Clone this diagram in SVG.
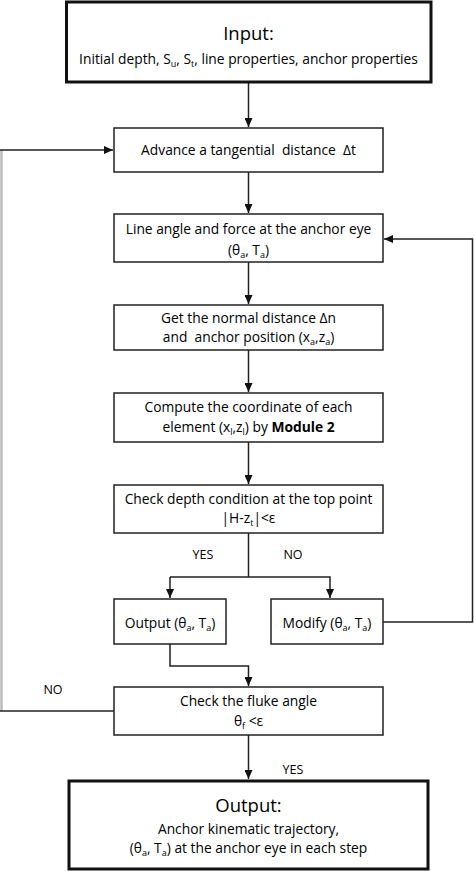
<svg xmlns="http://www.w3.org/2000/svg" width="474" height="871" viewBox="0 0 474 871">
<defs>
<marker id="ah" markerWidth="10" markerHeight="8" refX="9" refY="4" orient="auto" markerUnits="userSpaceOnUse">
<path d="M0,0 L9,4 L0,8 Z" fill="#111"/>
</marker>
</defs>
<style>
.box{fill:#fff;stroke:#222;stroke-width:1.5}
.tbox{fill:#fff;stroke:#111;stroke-width:3}
text{font-family:"Open Sans","Liberation Sans",sans-serif;fill:#000;text-anchor:middle;white-space:pre;font-weight:500}
.t{font-size:13.8px}
.big{font-size:18.5px}
.lab{font-size:12.5px}
.c{fill:none;stroke:#222;stroke-width:1.5}
.g{fill:none;stroke:#bbb;stroke-width:2.5}
.s{font-size:9px}
</style>
<rect width="474" height="871" fill="#fff"/>
<g id="connectors">
<line class="c" x1="248.5" y1="82" x2="248.5" y2="127" marker-end="url(#ah)"/>
<line class="c" x1="248.5" y1="172" x2="248.5" y2="213" marker-end="url(#ah)"/>
<line class="c" x1="248.5" y1="262" x2="248.5" y2="304" marker-end="url(#ah)"/>
<line class="c" x1="248.5" y1="350" x2="248.5" y2="392" marker-end="url(#ah)"/>
<line class="c" x1="248.5" y1="442" x2="248.5" y2="484" marker-end="url(#ah)"/>
<polyline class="c" points="248.5,533 248.5,577"/>
<polyline class="c" points="170,577 330,577 330,598" marker-end="url(#ah)"/>
<line class="c" x1="170" y1="577" x2="170" y2="598" marker-end="url(#ah)"/>
<polyline class="c" points="170,644 170,666 248.5,666 248.5,686" marker-end="url(#ah)"/>
<line class="c" x1="248.5" y1="735" x2="248.5" y2="779" marker-end="url(#ah)"/>
<polyline class="c" points="383,622 472.5,622 472.5,239 384,239" marker-end="url(#ah)"/>
<line class="g" x1="1.5" y1="711" x2="1.5" y2="150"/>
<line class="c" x1="114" y1="711" x2="0" y2="711"/>
<line class="c" x1="0" y1="150" x2="113" y2="150" marker-end="url(#ah)"/>
<text class="lab" x="203" y="558.5">YES</text>
<text class="lab" x="293" y="558.5">NO</text>
<text class="lab" x="53" y="693.5">NO</text>
<text class="lab" x="293" y="773.5">YES</text>
</g>
<g id="input">
<rect class="tbox" x="66.5" y="2" width="364.5" height="80"/>
<text class="big" x="248.5" y="40">Input:</text>
<text class="t" x="248.5" y="63.5">Initial depth, S<tspan class="s" dy="3">u</tspan><tspan dy="-3">, S</tspan><tspan class="s" dy="3">t</tspan><tspan dy="-3">, line properties, anchor properties</tspan></text>
</g>
<g id="advance">
<rect class="box" x="114" y="128" width="269" height="44"/>
<text class="t" x="248.5" y="155">Advance a tangential  distance  Δt</text>
</g>
<g id="lineangle">
<rect class="box" x="114" y="214" width="269" height="48"/>
<text class="t" x="248.5" y="234">Line angle and force at the anchor eye</text>
<text class="t" x="248.5" y="255">(θ<tspan class="s" dy="3">a</tspan><tspan dy="-3">, T</tspan><tspan class="s" dy="3">a</tspan><tspan dy="-3">)</tspan></text>
</g>
<g id="normal">
<rect class="box" x="114" y="305" width="269" height="45"/>
<text class="t" x="248.5" y="323">Get the normal distance Δn</text>
<text class="t" x="248.5" y="342">and  anchor position (x<tspan class="s" dy="3">a</tspan><tspan dy="-3">,z</tspan><tspan class="s" dy="3">a</tspan><tspan dy="-3">)</tspan></text>
</g>
<g id="compute">
<rect class="box" x="114" y="393" width="269" height="49"/>
<text class="t" x="248.5" y="412">Compute the coordinate of each</text>
<text class="t" x="248.5" y="432">element (x<tspan class="s" dy="3">l</tspan><tspan dy="-3">,z</tspan><tspan class="s" dy="3">l</tspan><tspan dy="-3">) by </tspan><tspan font-weight="bold">Module 2</tspan></text>
</g>
<g id="depth">
<rect class="box" x="114" y="485" width="269" height="48"/>
<text class="t" x="248.5" y="504">Check depth condition at the top point</text>
<text class="t" x="248.5" y="523">|H-z<tspan class="s" dy="3">t</tspan><tspan dy="-3">|&lt;ε</tspan></text>
</g>
<g id="outputta">
<rect class="box" x="114" y="599" width="112" height="45"/>
<text class="t" x="170" y="627.5">Output (θ<tspan class="s" dy="3">a</tspan><tspan dy="-3">, T</tspan><tspan class="s" dy="3">a</tspan><tspan dy="-3">)</tspan></text>
</g>
<g id="modify">
<rect class="box" x="271" y="599" width="112" height="45"/>
<text class="t" x="327" y="627.5">Modify (θ<tspan class="s" dy="3">a</tspan><tspan dy="-3">, T</tspan><tspan class="s" dy="3">a</tspan><tspan dy="-3">)</tspan></text>
</g>
<g id="fluke">
<rect class="box" x="114" y="687" width="269" height="48"/>
<text class="t" x="248.5" y="706">Check the fluke angle</text>
<text class="t" x="248.5" y="726">θ<tspan class="s" dy="3">f</tspan><tspan dy="-3"> &lt;ε</tspan></text>
</g>
<g id="output">
<rect class="tbox" x="69" y="781" width="359" height="88"/>
<text class="big" x="248.5" y="811.5">Output:</text>
<text class="t" x="248.5" y="834">Anchor kinematic trajectory,</text>
<text class="t" x="248.5" y="853">(θ<tspan class="s" dy="3">a</tspan><tspan dy="-3">, T</tspan><tspan class="s" dy="3">a</tspan><tspan dy="-3">) at the anchor eye in each step</tspan></text>
</g>
</svg>
